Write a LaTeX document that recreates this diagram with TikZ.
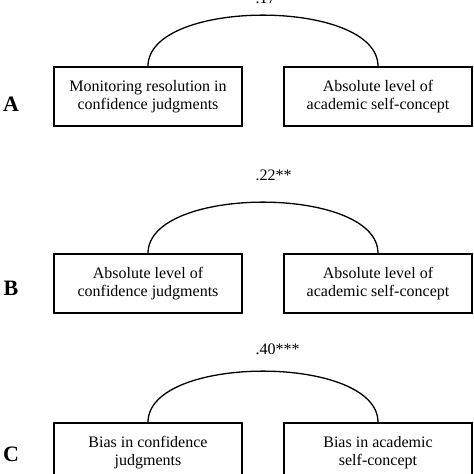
\documentclass[tikz,border=0pt]{standalone}
\usepackage{fontspec}
\setmainfont{Liberation Serif}
\usetikzlibrary{positioning}

\tikzset{varbox/.style={draw,line width=1.5pt,minimum width=188pt,minimum height=59pt,
 align=center,inner sep=2pt},
 corr/.style={line width=1.3pt},
 panel/.style={font=\bfseries\fontsize{22}{24}\selectfont,inner sep=0pt}}

\begin{document}
\begin{tikzpicture}[x=1pt,y=-1pt,font=\fontsize{16}{18.5}\selectfont,
 line width=1.3pt,every node/.style={inner sep=1pt}]
\clip (0,0) rectangle (474,474);
\useasboundingbox (0,0) rectangle (474,474);
% A
\begin{scope}[shift={(0,0)}]
 \node[varbox] (monres) at (148,96.5) {Monitoring resolution in\\confidence judgments};
 \node[varbox] (selfabsA) at (378,96.5) {Absolute level of\\academic self-concept};
 \draw[corr] (monres.north) to[out=90,in=90,looseness=.76] (selfabsA.north);
 \node[anchor=base west] (rA) at (254,3) {.17};
 \node[panel] (pA) at (11,104) {A};
\end{scope}
% B
\begin{scope}[shift={(0,187)}]
 \node[varbox] (confabs) at (148,96.5) {Absolute level of\\confidence judgments};
 \node[varbox] (selfabsB) at (378,96.5) {Absolute level of\\academic self-concept};
 \draw[corr] (confabs.north) to[out=90,in=90,looseness=.76] (selfabsB.north);
 \node[anchor=base west] (rB) at (254,-7) {.22**};
 \node[panel] (pB) at (11,101) {B};
\end{scope}
% C
\begin{scope}[shift={(0,356)}]
 \node[varbox] (confbias) at (148,96.5) {Bias in confidence\\judgments};
 \node[varbox] (selfbias) at (378,96.5) {Bias in academic\\self-concept};
 \draw[corr] (confbias.north) to[out=90,in=90,looseness=.76] (selfbias.north);
 \node[anchor=base west] (rC) at (254,-2) {.40***};
 \node[panel] (pC) at (11,98) {C};
\end{scope}
\end{tikzpicture}
\end{document}
